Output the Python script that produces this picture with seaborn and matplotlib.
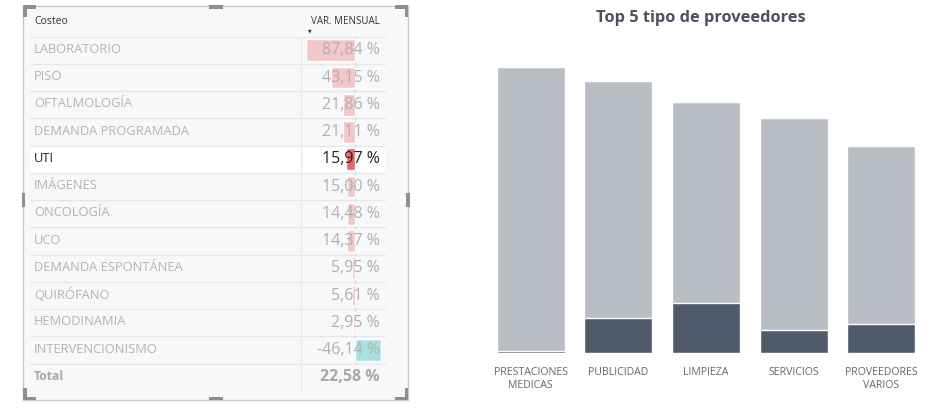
import pandas as pd
import numpy as np
import matplotlib.pyplot as plt
import matplotlib.patches as mpatches
import seaborn as sns

# ---- data ----
costeo = ["LABORATORIO", "PISO", "OFTALMOLOGÍA", "DEMANDA PROGRAMADA", "UTI",
          "IMÁGENES", "ONCOLOGÍA", "UCO", "DEMANDA ESPONTÁNEA", "QUIRÓFANO",
          "HEMODINAMIA", "INTERVENCIONISMO"]
var_mensual = [87.84, 43.15, 21.86, 21.11, 15.97, 15.00, 14.48, 14.37,
               5.95, 5.61, 2.95, -46.14]
var_total = 22.58
seleccion = "UTI"

proveedores = ["PRESTACIONES\nMEDICAS", "PUBLICIDAD", "LIMPIEZA", "SERVICIOS",
               "PROVEEDORES\nVARIOS"]
total_prov = [5.72, 5.44, 5.02, 4.70, 4.14]
destacado_prov = [0.03, 0.69, 0.99, 0.45, 0.58]

W, H = 952, 413


def fmt(v):
    return f"{v:.2f}".replace(".", ",") + " %"


def px_axes(fig, x0, y0, x1, y1, **kw):
    return fig.add_axes([x0 / W, 1 - y1 / H, (x1 - x0) / W, (y1 - y0) / H], **kw)


sns.set_theme(style="white")
plt.rcParams['font.family'] = ['Open Sans', 'DejaVu Sans']

fig = plt.figure(figsize=(W / 100, H / 100), dpi=100)

# background / layout layer in pixel coords
ax_bg = px_axes(fig, 0, 0, W, H, zorder=0)
ax_bg.set_xlim(0, W)
ax_bg.set_ylim(H, 0)
ax_bg.axis("off")

# overlay for texts and handles
ax_fg = px_axes(fig, 0, 0, W, H, zorder=5)
ax_fg.set_xlim(0, W)
ax_fg.set_ylim(H, 0)
ax_fg.axis("off")
ax_fg.patch.set_alpha(0)

# table frame
ax_bg.add_patch(mpatches.Rectangle((23, 6), 385, 394, facecolor="#f7f8fa",
                                   edgecolor="#c8c8c8", lw=1))
row_h = 27.25
top = 36.7
n = len(costeo)
col_div = 300.7
tab_l, tab_r = 30, 385
for i, name in enumerate(costeo):
    y0 = top + i * row_h
    if name == seleccion:
        ax_bg.add_patch(mpatches.Rectangle((tab_l, y0), tab_r - tab_l, row_h,
                                           facecolor="white", edgecolor="none"))
for i in range(n + 1):
    y = top + i * row_h
    ax_bg.plot([tab_l, tab_r], [y, y], color="#e6e7e9", lw=0.9)
ax_bg.plot([col_div, col_div], [top, top + (n + 1) * row_h], color="#e6e7e9", lw=0.9)

# data bars in the value column
ax_db = px_axes(fig, col_div, top, tab_r, top + n * row_h, zorder=2)
ax_db.patch.set_alpha(0)
df_t = pd.DataFrame({"costeo": costeo, "var": var_mensual})
colors = {}
for name, v in zip(costeo, var_mensual):
    if name == seleccion:
        colors[name] = "#e8676b"
    elif v < 0:
        colors[name] = "#a8e1e2"
    else:
        colors[name] = "#f3c6c8"
sns.barplot(data=df_t, y="costeo", x="var", hue="costeo", palette=colors,
            orient="h", width=0.8, saturation=1, legend=False, ax=ax_db)
ax_db.axvline(0, color="#d0d0d0", lw=0.6, zorder=0)
ax_db.set_xlim(96.8, -53.75)
ax_db.set_ylim(n - 0.5, -0.5)
ax_db.axis("off")

# table texts
ax_fg.text(34, 21, "Costeo", fontsize=7.5, color="#333333", va="center")
ax_fg.text(380, 21, "VAR. MENSUAL", fontsize=7, color="#333333", va="center", ha="right")
ax_fg.text(310, 31, "▼", fontsize=3.5, color="#333333", va="center", ha="center",
           family="DejaVu Sans")
for i, (name, v) in enumerate(zip(costeo, var_mensual)):
    yc = top + (i + 0.5) * row_h
    c_lab = "#252423" if name == seleccion else "#b4b4b4"
    c_val = "#252423" if name == seleccion else "#b0b0b0"
    ax_fg.text(34, yc - 1, name, fontsize=9.3, color=c_lab, va="center")
    ax_fg.text(380, yc, fmt(v), fontsize=11.5, color=c_val, va="center", ha="right")
yc = top + (n + 0.5) * row_h
ax_fg.text(34, yc - 1, "Total", fontsize=8.8, color="#a8a8a8", va="center",
           fontweight="bold")
ax_fg.text(380, yc, fmt(var_total), fontsize=11.5, color="#a8a8a8", va="center",
           ha="right", fontweight="bold")

# selection handles
hc = "#8f8f8f"
for (x, y, w, h) in [(23, 5, 13, 3.5), (23, 5, 3.5, 12),
                     (395, 5, 13, 3.5), (404.5, 5, 3.5, 12),
                     (23, 396.5, 13, 3.5), (23, 388, 3.5, 12),
                     (395, 396.5, 13, 3.5), (404.5, 388, 3.5, 12),
                     (209, 5, 14, 3.5), (209, 396.5, 14, 3.5),
                     (21.5, 193, 3.5, 14), (406, 193, 3.5, 14)]:
    ax_fg.add_patch(mpatches.Rectangle((x, y), w, h, facecolor=hc, edgecolor="none"))

# ---- bar chart ----
ax_bar = px_axes(fig, 486.9, 40, 925.1, 352.7, zorder=2)
ax_bar.patch.set_alpha(0)
df_p = pd.DataFrame({"proveedor": proveedores, "total": total_prov,
                     "destacado": destacado_prov})
sns.barplot(data=df_p, x="proveedor", y="total", color="#b9bdc4", width=0.776,
            saturation=1, ax=ax_bar)
sns.barplot(data=df_p, x="proveedor", y="destacado", color="#4f5b6b", width=0.776,
            saturation=1, ax=ax_bar)
ax_bar.set_xlim(-0.5, len(proveedores) - 0.5)
ax_bar.set_ylim(0, 6.254)
sns.despine(ax=ax_bar, left=True, bottom=True)
ax_bar.set_yticks([])
ax_bar.set_xlabel("")
ax_bar.set_ylabel("")
ax_bar.tick_params(axis="x", length=0, pad=10.5, labelsize=7.6, labelcolor="#666666")

ax_fg.text(701, 18, "Top 5 tipo de proveedores", fontsize=11.8, fontweight="bold",
           color="#4a5160", ha="center", va="center")

fig.savefig("out.png", dpi=100)
